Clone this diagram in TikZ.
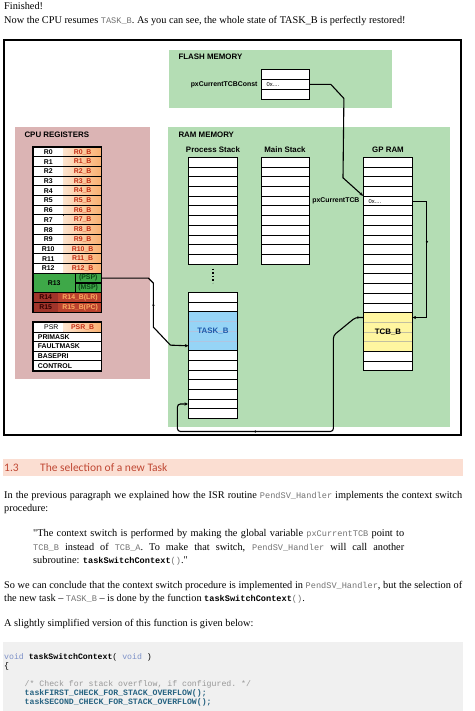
\documentclass[tikz,border=0pt]{standalone}
\usepackage{fontspec}
\setmainfont{Liberation Serif}
\setsansfont{Liberation Sans}
\setmonofont{Liberation Mono}
\newfontfamily\headfont{Carlito}
\usepackage{xcolor}
\usetikzlibrary{positioning,arrows.meta}

\definecolor{memgreen}{RGB}{180,221,180}
\definecolor{cpupink}{RGB}{219,180,180}
\definecolor{regorange}{RGB}{250,176,112}
\definecolor{regred}{RGB}{195,45,20}
\definecolor{rgreen}{RGB}{62,168,72}
\definecolor{rgreentext}{RGB}{12,70,22}
\definecolor{lrdark}{RGB}{160,52,42}
\definecolor{lrval}{RGB}{188,66,46}
\definecolor{lrtext}{RGB}{252,172,96}
\definecolor{taskblue}{RGB}{150,212,246}
\definecolor{tasktext}{RGB}{30,90,170}
\definecolor{tcbyellow}{RGB}{255,246,160}
\definecolor{headbar}{RGB}{251,222,210}
\definecolor{headtext}{RGB}{192,72,52}
\definecolor{codebg}{RGB}{240,240,240}
\definecolor{codekey}{RGB}{125,145,200}
\definecolor{codemacro}{RGB}{40,100,130}

\newcommand{\regfont}{\sffamily\bfseries\fontsize{6.9}{7.5}\selectfont}
\newcommand{\zonefont}{\sffamily\bfseries\fontsize{7.9}{8.5}\selectfont}
\newcommand{\tinyfont}{\sffamily\fontsize{5.8}{6}\selectfont}
\newcommand{\code}[1]{{\ttfamily\color{black!55}\fontsize{8.6}{10}\selectfont #1}}
\newcommand{\fname}{{\ttfamily\bfseries\fontsize{8.6}{10}\selectfont taskSwitchContext}}
\newcommand{\bodyline}[2]{\makebox[#1][s]{#2}}

\tikzset{
  memcell/.style={draw, fill=white, line width=0.9pt, minimum height=9.7pt,
    inner sep=0pt, anchor=north west},
  regname/.style={fill=white, minimum width=30pt, minimum height=9.7pt,
    inner sep=0pt, anchor=north west, font=\regfont},
  regval/.style={left color=regorange!35, right color=regorange, text=regred,
    minimum width=38pt, minimum height=9.7pt, inner sep=0pt, font=\regfont},
  cellline/.style={line width=0.8pt},
  link/.style={line width=1.1pt, -{Stealth[length=3.5pt,width=3.2pt]}},
  dot/.style={circle, fill=black, inner sep=0pt, minimum size=2.4pt},
  bodytext/.style={anchor=base west, inner sep=0pt, font=\fontsize{10.3}{12}\selectfont}
}

\begin{document}
\begin{tikzpicture}[x=1pt, y=-1pt]
    \fill[white] (0,0) rectangle (474,711);
    \useasboundingbox (0,0) rectangle (474,711);

    % Text above the picture
    \node[bodytext] (fin) at (4,10) {Finished!};
    \node[bodytext] (resume) at (4,24) {Now the CPU resumes \code{TASK\_B}. As you can see, the whole state of TASK\_B is perfectly restored!};

    % Frame and memory zones
    \draw[line width=1.5pt] (4,40) rectangle (461,435);
    \fill[memgreen] (169,50) rectangle (392,108);
    \fill[cpupink] (15,127) rectangle (150,379);
    \fill[memgreen] (168,127) rectangle (450,427);
    \node[font=\zonefont, anchor=west] (flashtitle) at (175,57) {FLASH MEMORY};
    \node[font=\zonefont, anchor=west] (cputitle) at (21,135) {CPU REGISTERS};
    \node[font=\zonefont, anchor=west] (ramtitle) at (175,135) {RAM MEMORY};

    % Flash cells
    \foreach \i in {0,1,2}
        \node[memcell, minimum width=48pt, minimum height=10pt] (fl\i) at (261,{69+\i*10}) {};
    \node[font=\tinyfont, anchor=west] (flval) at ([shift={(2,0)}]fl1.west) {0x....};
    \node[font=\regfont, anchor=east] (fllabel) at (fl1.west) {pxCurrentTCBConst};

    % Registers R0..R12
    \foreach \i in {0,...,12}{
        \node[regname] (rn\i) at (33,{147+\i*9.7}) {R\i};
        \node[regval, right=0pt of rn\i] (rv\i) {R\i\_B};
        \draw[cellline] (rn\i.north west) rectangle (rv\i.south east);
    }
    % R13 with PSP / MSP
    \node[regname, fill=rgreen, minimum width=42pt, minimum height=19.4pt] (rn13) at (33,273.1) {R13};
    \node[regname, fill=rgreen, text=rgreentext, minimum width=26pt] (psp) at (75,273.1) {(PSP)};
    \node[regname, fill=rgreen, text=rgreentext, minimum width=26pt] (msp) at (75,282.8) {(MSP)};
    \draw[cellline] (rn13.north west) rectangle (rn13.south east);
    \draw[cellline] (psp.north west) rectangle (psp.south east);
    \draw[cellline] (msp.north west) rectangle (msp.south east);
    % R14, R15
    \node[regname, fill=lrdark, text=black!80!red, minimum width=25pt] (rn14) at (33,292.5) {R14};
    \node[regval, left color=lrval, right color=lrval, text=lrtext, minimum width=43pt, right=0pt of rn14] (rv14) {R14\_B(LR)};
    \node[regname, fill=lrdark, text=black!80!red, minimum width=25pt] (rn15) at (33,302.2) {R15};
    \node[regval, left color=lrval, right color=lrval, text=lrtext, minimum width=43pt, right=0pt of rn15] (rv15) {R15\_B(PC)};
    \draw[cellline] (rn14.north west) rectangle (rv14.south east);
    \draw[cellline] (rn15.north west) rectangle (rv15.south east);
    \draw[line width=1.3pt] (rn0.north west) rectangle (rv15.south east);

    % Special registers
    \node[regname, font=\regfont\mdseries, text width=26pt, align=left, inner xsep=0pt] (psr) at (33,322) {\hspace*{9pt}PSR};
    \node[regval, right=0pt of psr] (psrb) {PSR\_B};
    \draw[cellline] (psr.north west) rectangle (psrb.south east);
    \foreach \reg [count=\k] in {PRIMASK,FAULTMASK,BASEPRI,CONTROL}{
        \node[regname, minimum width=68pt, text width=59pt, align=left, draw, line width=0.8pt] (sr\k) at (33,{322+\k*9.6}) {\reg};
    }
    \draw[line width=1.3pt] (psr.north west) rectangle (sr4.south east);

    % Process stack
    \node[font=\zonefont] (pshead) at (213,150) {Process Stack};
    \foreach \i in {0,...,10}
        \node[memcell, minimum width=49pt] (ps\i) at (188,{157+\i*9.7}) {};
    \draw[line width=1.5pt, dotted] (ps10.south) ++(0,4) -- ++(0,14);
    \foreach \i in {0,...,12}
        \node[memcell, minimum width=49pt] (pl\i) at (188,{292+\i*9.7}) {};
    \foreach \i in {2,...,5}
        \node[memcell, fill=taskblue, draw=tasktext!35] (pl\i) at (188.4,{292+\i*9.7}) [minimum width=48.2pt] {};
    \node[memcell, fill=none, minimum width=49pt, minimum height=38.8pt, text=tasktext, font=\zonefont] (taskb) at (188,311.4) {TASK\_B};

    % Main stack
    \node[font=\zonefont] (mshead) at (285,150) {Main Stack};
    \foreach \i in {0,...,10}
        \node[memcell, minimum width=48pt] (ms\i) at (261,{157+\i*9.7}) {};

    % GP RAM
    \node[font=\zonefont] (gphead) at (388,150) {GP RAM};
    \foreach \i in {0,...,21}
        \node[memcell, minimum width=49pt] (gp\i) at (363,{157+\i*9.7}) {};
    \foreach \i in {16,...,19}
        \node[memcell, fill=tcbyellow, draw=tcbyellow!60!black!60] (gp\i) at (363.4,{157+\i*9.7}) [minimum width=48.2pt] {};
    \node[memcell, fill=none, minimum width=49pt, minimum height=38.8pt, font=\zonefont] (tcbb) at (363,312.2) {TCB\_B};
    \node[font=\tinyfont, anchor=west] (gpval) at ([shift={(2,0)}]gp4.west) {0x....};
    \node[font=\regfont, anchor=east] (gplabel) at (gp4.west) {pxCurrentTCB};

    % Connectors
    \draw[link] (fl1.east) -- ++(21,0) -- ++(13,14) -- ([shift={(-20,-18)}]gp4.north west) -- (gp4.north west);
    \draw[link] (gp4.east) -- ++(14,0) coordinate (gpbend) -- node[pos=0.35, dot] {} (gpbend |- gp16.east) -- (gp16.east);
    \draw[link] (psp.east) -- ++(47,0) -- ++(5,5) -- node[dot] {} ++(0,44) -- ++(17,18) -- (pl5.west);
    \draw[link, rounded corners=3pt] (gp16.west) -- node[pos=0.7, dot] {} ++(-8,0) -- ++(-22,18) -- ++(0,96)
        -- node[dot] {} ++(-156,0) |- (pl11.west);

    % Section heading
    \fill[headbar] (3,459) rectangle (463,476);
    \node[anchor=base west, inner sep=0pt, text=headtext, font=\headfont\fontsize{11.5}{13}\selectfont] (secnum) at (4,471) {1.3};
    \node[anchor=base west, inner sep=0pt, text=headtext, font=\headfont\fontsize{11.5}{13}\selectfont] (sectitle) at (40,471) {The selection of a new Task};

    % Paragraphs
    \node[bodytext] (p1a) at (4,498) {\bodyline{458pt}{In the previous paragraph we explained how the ISR routine \code{PendSV\_Handler} implements the context switch}};
    \node[bodytext] (p1b) at (4,511) {procedure:};
    \node[bodytext] (q1) at (33,536) {\bodyline{371pt}{\textquotedbl The context switch is performed by making the global variable \code{pxCurrentTCB} point to}};
    \node[bodytext] (q2) at (33,550) {\bodyline{371pt}{\code{TCB\_B} instead of \code{TCB\_A}. To make that switch, \code{PendSV\_Handler} will call another}};
    \node[bodytext] (q3) at (33,563) {subroutine: \fname\code{()}.\textquotedbl};
    \node[bodytext] (p2a) at (4,588) {\bodyline{458pt}{So we can conclude that the context switch procedure is implemented in \code{PendSV\_Handler}, but the selection of}};
    \node[bodytext] (p2b) at (4,601) {the new task -- \code{TASK\_B} -- is done by the function \fname\code{()}.};
    \node[bodytext] (p3) at (4,626) {A slightly simplified version of this function is given below:};

    % Code listing
    \fill[codebg] (3,642) rectangle (463,711);
    \node[anchor=base west, inner sep=0pt, font=\ttfamily\fontsize{8.2}{9}\selectfont] (c1) at (4,659)
        {\textcolor{codekey}{void} \textbf{taskSwitchContext}( \textcolor{codekey}{void} )};
    \node[anchor=base west, inner sep=0pt, font=\ttfamily\fontsize{8.2}{9}\selectfont] (c2) at (4,668) {\{};
    \node[anchor=base west, inner sep=0pt, font=\ttfamily\fontsize{8.2}{9}\selectfont, text=black!40] (c3) at (24.5,686)
        {/* Check for stack overflow, if configured. */};
    \node[anchor=base west, inner sep=0pt, font=\ttfamily\bfseries\fontsize{8.2}{9}\selectfont, text=codemacro] (c4) at (24.5,695)
        {taskFIRST\_CHECK\_FOR\_STACK\_OVERFLOW();};
    \node[anchor=base west, inner sep=0pt, font=\ttfamily\bfseries\fontsize{8.2}{9}\selectfont, text=codemacro] (c5) at (24.5,704)
        {taskSECOND\_CHECK\_FOR\_STACK\_OVERFLOW();};
\end{tikzpicture}
\end{document}
